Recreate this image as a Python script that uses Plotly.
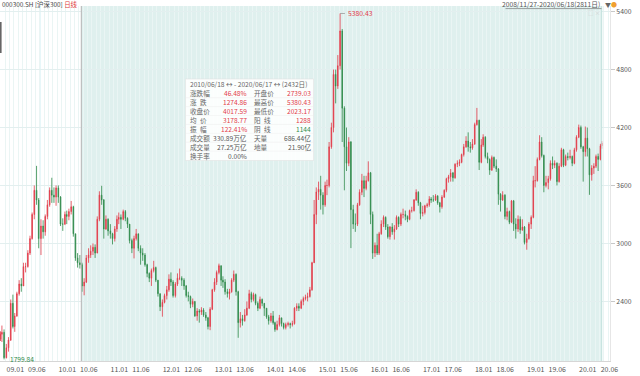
import plotly.graph_objects as go
import pandas as pd

# ---------------- data (half-monthly candles) ----------------
open_2008 = [2010, 2060, 2080]
high_2008 = [2090, 2150, 2110]
low_2008 = [1990, 1980, 1799.84]
close_2008 = [2060, 2080, 1817]

open_2009 = [1817, 1920, 2000, 2380, 2140, 2250, 2480, 2580, 2560, 2760, 2760, 2900, 3050, 3300, 3550, 3450, 3050, 3180, 3120, 3280, 3400, 3550, 3500, 3480]
high_2009 = [1960, 2030, 2420, 2470, 2280, 2500, 2620, 2640, 2800, 2800, 2930, 3080, 3320, 3600, 3803, 3470, 3250, 3240, 3300, 3450, 3580, 3680, 3580, 3600]
low_2009 = [1810, 1880, 1990, 2120, 2085, 2240, 2460, 2500, 2560, 2700, 2750, 2880, 3040, 3250, 3400, 2950, 2880, 3050, 3080, 3250, 3380, 3420, 3420, 3390]
close_2009 = [1920, 2000, 2380, 2140, 2250, 2480, 2580, 2560, 2760, 2760, 2900, 3050, 3300, 3550, 3450, 3050, 3180, 3120, 3280, 3400, 3550, 3500, 3480, 3575]

open_2010 = [3575, 3480, 3200, 3200, 3300, 3280, 3330, 3380, 3100, 2850, 2800, 2780, 2560, 2600, 2850, 2880, 2920, 2960, 2900, 3250, 3500, 3450, 3150, 3250]
high_2010 = [3600, 3490, 3260, 3330, 3340, 3360, 3440, 3390, 3100, 2900, 2880, 2800, 2640, 2880, 2950, 2980, 3000, 2990, 3280, 3540, 3597, 3460, 3290, 3260]
low_2010 = [3420, 3180, 3130, 3190, 3200, 3240, 3300, 3070, 2820, 2750, 2740, 2500, 2463, 2590, 2800, 2850, 2880, 2850, 2900, 3230, 3400, 3050, 3140, 3080]
close_2010 = [3480, 3200, 3200, 3300, 3280, 3330, 3380, 3100, 2850, 2800, 2780, 2560, 2600, 2850, 2880, 2920, 2960, 2900, 3250, 3500, 3450, 3150, 3250, 3130]

open_2011 = [3130, 3100, 3050, 3150, 3250, 3270, 3250, 3330, 3260, 3200, 3030, 2950, 3050, 3100, 2950, 2900, 2880, 2780, 2690, 2640, 2720, 2750, 2620, 2480]
high_2011 = [3200, 3110, 3180, 3290, 3320, 3300, 3350, 3346, 3270, 3200, 3050, 3080, 3150, 3100, 2980, 2950, 2900, 2790, 2700, 2740, 2820, 2760, 2620, 2480]
low_2011 = [3050, 2990, 3020, 3120, 3200, 3150, 3240, 3230, 3160, 3000, 2900, 2845, 3030, 2920, 2780, 2820, 2760, 2650, 2600, 2560, 2700, 2600, 2450, 2300]
close_2011 = [3100, 3050, 3150, 3250, 3270, 3250, 3330, 3260, 3200, 3030, 2950, 3050, 3100, 2950, 2900, 2880, 2780, 2690, 2640, 2720, 2750, 2620, 2480, 2345]

open_2012 = [2345, 2390, 2460, 2520, 2630, 2600, 2460, 2580, 2640, 2640, 2620, 2560, 2460, 2450, 2370, 2400, 2250, 2300, 2290, 2310, 2260, 2230, 2140, 2320]
high_2012 = [2420, 2480, 2560, 2680, 2700, 2620, 2600, 2690, 2740, 2660, 2640, 2570, 2500, 2460, 2430, 2400, 2330, 2320, 2340, 2330, 2290, 2240, 2340, 2530]
low_2012 = [2242, 2380, 2420, 2500, 2560, 2440, 2440, 2560, 2620, 2560, 2520, 2440, 2400, 2330, 2340, 2240, 2200, 2180, 2260, 2240, 2200, 2110, 2102, 2310]
close_2012 = [2390, 2460, 2520, 2630, 2600, 2460, 2580, 2640, 2640, 2620, 2560, 2460, 2450, 2370, 2400, 2250, 2300, 2290, 2310, 2260, 2230, 2140, 2320, 2520]

open_2013 = [2520, 2600, 2700, 2770, 2620, 2600, 2500, 2480, 2500, 2620, 2680, 2500, 2180, 2220, 2200, 2260, 2330, 2480, 2420, 2470, 2380, 2330, 2420, 2380]
high_2013 = [2640, 2720, 2791, 2770, 2660, 2630, 2530, 2530, 2640, 2720, 2690, 2510, 2290, 2260, 2320, 2400, 2520, 2500, 2490, 2480, 2400, 2450, 2430, 2380]
low_2013 = [2500, 2570, 2680, 2560, 2540, 2470, 2440, 2420, 2490, 2600, 2460, 2023.17, 2130, 2150, 2190, 2250, 2320, 2390, 2400, 2360, 2300, 2320, 2350, 2250]
close_2013 = [2600, 2700, 2770, 2620, 2600, 2500, 2480, 2500, 2620, 2680, 2500, 2180, 2220, 2200, 2260, 2330, 2480, 2420, 2470, 2380, 2330, 2420, 2380, 2330]

open_2014 = [2330, 2240, 2200, 2250, 2180, 2110, 2160, 2230, 2170, 2130, 2160, 2170, 2160, 2170, 2330, 2350, 2330, 2400, 2430, 2440, 2450, 2520, 2800, 3300]
high_2014 = [2330, 2260, 2280, 2300, 2190, 2200, 2260, 2230, 2180, 2180, 2190, 2180, 2200, 2340, 2380, 2380, 2420, 2450, 2470, 2490, 2550, 2810, 3450, 3580]
low_2014 = [2220, 2160, 2180, 2160, 2086, 2100, 2140, 2140, 2110, 2110, 2140, 2120, 2140, 2160, 2300, 2300, 2320, 2360, 2410, 2400, 2440, 2510, 2800, 3200]
close_2014 = [2240, 2200, 2250, 2180, 2110, 2160, 2230, 2170, 2130, 2160, 2170, 2160, 2170, 2330, 2350, 2330, 2400, 2430, 2440, 2450, 2520, 2800, 3300, 3533]

open_2015 = [3533, 3560, 3500, 3400, 3600, 3600, 4000, 4200, 4750, 4630, 4840, 5200, 4400, 4000, 3830, 4050, 3350, 3200, 3200, 3400, 3530, 3650, 3570, 3650]
high_2015 = [3640, 3700, 3530, 3640, 3660, 4050, 4250, 4800, 4800, 4950, 5380.43, 5220, 4420, 4200, 4100, 4060, 3400, 3310, 3420, 3560, 3720, 3700, 3700, 3850]
low_2015 = [3450, 3350, 3300, 3380, 3500, 3580, 3980, 4150, 4450, 4600, 4800, 4050, 3550, 3750, 3800, 2952, 3150, 3120, 3180, 3390, 3500, 3480, 3550, 3640]
close_2015 = [3560, 3500, 3400, 3600, 3600, 4000, 4200, 4750, 4630, 4840, 5200, 4400, 4000, 3830, 4050, 3350, 3200, 3200, 3400, 3530, 3650, 3570, 3650, 3731]

open_2016 = [3731, 3300, 2900, 2980, 2900, 3100, 3200, 3270, 3170, 3070, 3170, 3120, 3150, 3270, 3200, 3300, 3300, 3280, 3250, 3340, 3340, 3450, 3530, 3420]
high_2016 = [3740, 3330, 3010, 3100, 3120, 3240, 3290, 3280, 3200, 3180, 3210, 3190, 3290, 3280, 3320, 3360, 3340, 3290, 3350, 3380, 3460, 3560, 3540, 3430]
low_2016 = [3200, 2840, 2860, 2880, 2880, 3090, 3170, 3140, 3050, 3040, 3090, 3040, 3140, 3170, 3180, 3260, 3240, 3220, 3240, 3320, 3330, 3440, 3390, 3250]
close_2016 = [3300, 2900, 2980, 2900, 3100, 3200, 3270, 3170, 3070, 3170, 3120, 3150, 3270, 3200, 3300, 3300, 3280, 3250, 3340, 3340, 3450, 3530, 3420, 3310]

open_2017 = [3310, 3320, 3390, 3400, 3460, 3450, 3450, 3490, 3420, 3380, 3480, 3550, 3670, 3690, 3730, 3680, 3820, 3830, 3840, 3920, 4000, 4060, 4000, 3990]
high_2017 = [3390, 3400, 3420, 3490, 3480, 3500, 3510, 3500, 3430, 3500, 3560, 3680, 3710, 3770, 3740, 3830, 3860, 3870, 3930, 4030, 4110, 4150, 4050, 4080]
low_2017 = [3280, 3300, 3370, 3380, 3420, 3430, 3440, 3400, 3320, 3360, 3470, 3530, 3630, 3640, 3640, 3670, 3790, 3800, 3830, 3900, 3990, 3950, 3940, 3970]
close_2017 = [3320, 3390, 3400, 3460, 3450, 3450, 3490, 3420, 3380, 3480, 3550, 3670, 3690, 3730, 3680, 3820, 3830, 3840, 3920, 4000, 4060, 4000, 3990, 4030]

open_2018 = [4030, 4230, 4275, 3840, 4020, 4100, 3900, 3870, 3760, 3890, 3800, 3770, 3510, 3450, 3500, 3280, 3330, 3220, 3440, 3200, 3150, 3250, 3140, 3170]
high_2018 = [4250, 4403, 4280, 4080, 4130, 4110, 3940, 3880, 3910, 3900, 3870, 3780, 3520, 3540, 3510, 3370, 3340, 3450, 3450, 3260, 3290, 3280, 3250, 3180]
low_2018 = [4020, 4220, 3760, 3830, 4000, 3880, 3830, 3710, 3750, 3780, 3740, 3400, 3330, 3440, 3250, 3240, 3200, 3210, 3130, 3050, 3120, 3100, 3130, 2990]
close_2018 = [4230, 4275, 3840, 4020, 4100, 3900, 3870, 3760, 3890, 3800, 3770, 3510, 3450, 3500, 3280, 3330, 3220, 3440, 3200, 3150, 3250, 3140, 3170, 3010]

open_2019 = [3010, 3050, 3200, 3270, 3650, 3650, 3870, 4050, 3910, 3600, 3630, 3670, 3830, 3810, 3830, 3640, 3800, 3970, 3810, 3900, 3890, 3900, 3830, 3970]
high_2019 = [3100, 3220, 3290, 3700, 3800, 3890, 4120, 4100, 3920, 3700, 3700, 3860, 3900, 3860, 3840, 3830, 3990, 3980, 3920, 3940, 3970, 3910, 3990, 4120]
low_2019 = [2935, 3040, 3150, 3260, 3580, 3640, 3860, 3890, 3530, 3580, 3560, 3650, 3770, 3780, 3600, 3630, 3790, 3790, 3800, 3860, 3870, 3800, 3820, 3950]
close_2019 = [3050, 3200, 3270, 3650, 3650, 3870, 4050, 3910, 3600, 3630, 3670, 3830, 3810, 3830, 3640, 3800, 3970, 3810, 3900, 3890, 3900, 3830, 3970, 4100]

open_2020 = [4100, 4200, 4000, 3950, 4090, 3980, 3710, 3780, 3800, 3900, 3870, 4010]
high_2020 = [4230, 4220, 4010, 4210, 4200, 3990, 3810, 3830, 3920, 3930, 4030, 4060]
low_2020 = [4090, 3980, 3640, 3900, 3900, 3503, 3650, 3720, 3780, 3750, 3860, 3980]
close_2020 = [4200, 4000, 3950, 4090, 3980, 3710, 3780, 3800, 3900, 3870, 4010, 4040]

# x categories: centre date of every half-month period
def half_months(year, months):
    out = []
    for m in months:
        out += [f"{year}-{m:02d}-08", f"{year}-{m:02d}-23"]
    return out

dates = ["2008-11-28", "2008-12-08", "2008-12-23"]
for yr in range(2009, 2020):
    dates += half_months(yr, range(1, 13))
d2020 = half_months(2020, range(1, 7))
d2020[-1] = "2020-06-17"
dates += d2020

years = range(2008, 2021)
g = globals()
opens = sum((g[f"open_{y}"] for y in years), [])
highs = sum((g[f"high_{y}"] for y in years), [])
lows = sum((g[f"low_{y}"] for y in years), [])
closes = sum((g[f"close_{y}"] for y in years), [])

y_ticks = [2400, 3000, 3600, 4200, 4800, 5400]
x_tick_dates = []
x_tick_text = []
for yr in range(2009, 2021):
    for m in (1, 6):
        x_tick_dates.append(f"{yr}-{m:02d}-01")
        x_tick_text.append(f"{yr % 100:02d}.{m:02d}")

sel_start, sel_end = "2010-06-18", "2020-06-17"
peak_date, peak_value = "2015-06-08", 5380.43
low_date, low_value = "2008-12-23", 1799.84

stat_left_labels = ["涨跌幅", "涨\u2002跌", "收盘价", "均\u2002价", "振\u2002幅", "成交额", "成交量", "换手率"]
stat_left_values = ["46.48%", "1274.86", "4017.59", "3178.77", "122.41%", "330.89万亿", "27.25万亿", "0.00%"]
stat_right_labels = ["开盘价", "最高价", "最低价", "阳\u2002线", "阴\u2002线", "天量", "地量", ""]
stat_right_values = ["2739.03", "5380.43", "2023.17", "1288", "1144", "686.44亿", "21.90亿", ""]

# ---------------- styling / layout ----------------
W, H = 640, 376
ML, MR, MT, MB = 0, 30, 6, 15
PW, PH = W - ML - MR, H - MT - MB
PX_PER_DAY = 0.1425

def px(x):
    return (x - ML) / PW

def py(y):
    return 1 - (y - MT) / PH

FONT = "Noto Sans CJK SC, Noto Sans, sans-serif"
RED = "#e23a48"
GREEN = "#2e8a4a"
GRID = "#eaf5f4"
TXT = "#555555"

x0 = pd.Timestamp("2008-11-27") - pd.Timedelta(days=2.5)
x1 = x0 + pd.Timedelta(days=PW / PX_PER_DAY)

fig = go.Figure()
fig.add_trace(go.Candlestick(
    x=dates, open=opens, high=highs, low=lows, close=closes,
    increasing=dict(line=dict(color=RED, width=0.8), fillcolor=RED),
    decreasing=dict(line=dict(color=GREEN, width=0.8), fillcolor=GREEN),
    whiskerwidth=0, showlegend=False, hoverinfo="skip",
))

shapes = [
    dict(type="rect", xref="x", yref="paper", x0=sel_start, x1=sel_end, y0=0, y1=1,
         fillcolor="#dff0ee", line=dict(width=0), layer="below"),
    dict(type="line", xref="x", yref="paper", x0=sel_start, x1=sel_start, y0=0, y1=1,
         line=dict(color="#b3b3b3", width=1), layer="above"),
    dict(type="line", xref="x", yref="paper", x0=sel_end, x1=sel_end, y0=0, y1=1,
         line=dict(color="#bfe0db", width=1), layer="above"),
    dict(type="line", xref="x", yref="paper", x0="2009-09-01", x1="2009-09-01", y0=0, y1=1,
         line=dict(color="#cdeff3", width=1), layer="between"),
    dict(type="rect", xref="paper", yref="paper", x0=px(0), x1=px(1.6), y0=py(53), y1=py(22),
         fillcolor="#666666", line=dict(width=0)),
    # statistics box
    dict(type="rect", xref="paper", yref="paper", x0=px(185.5), x1=px(313.5), y0=py(160.5), y1=py(79),
         fillcolor="rgba(255,255,255,0.88)", line=dict(color="#e2e2e2", width=0.6), layer="above"),
    # peak leader
    dict(type="line", xref="x", yref="y", x0=peak_date, x1="2015-07-12", y0=peak_value, y1=peak_value,
         line=dict(color="#9a9a9a", width=0.8)),
    # underline of range text
    dict(type="line", xref="paper", yref="paper", x0=px(505.5), x1=px(601.5), y0=py(8.6), y1=py(8.6),
         line=dict(color="#777777", width=0.7)),
]

row_y = [93.3 + i * 8.9 for i in range(8)]
for i in range(1, 8):
    yy = row_y[i] - 4.45
    shapes.append(dict(type="line", xref="paper", yref="paper", x0=px(186), x1=px(313), y0=py(yy), y1=py(yy),
                       line=dict(color="#f0f0f0", width=0.6), layer="above"))

ann = []
def txt(x, y, s, color=TXT, size=7, anchor="left", **kw):
    ann.append(dict(xref="paper", yref="paper", x=px(x), y=py(y), text=s, showarrow=False,
                    xanchor=anchor, yanchor="middle", font=dict(family=FONT, size=size, color=color), **kw))

txt(0, 4, "000300.SH [沪深300] <span style='color:#e03c3c'>日线</span>", color="#444444", size=6.4)
txt(601.5, 4, "2008/11/27-2020/06/18(2811日)", color="#555555", anchor="right", size=6.7)
txt(602.5, 4, "▼", color="#666666", size=6)
txt(608.5, 4, "●", color="#f0a030", size=6)
txt(586, 13, "□ ×", color="#d4d4d4", size=5.5)

txt(187.5, 84, "2010/06/18 ↔ - 2020/06/17 ↔ (2432日)", color="#666666", size=6.6)
for i in range(8):
    txt(187.5, row_y[i], stat_left_labels[i], color="#666666", size=6.6)
    lc = RED if i < 5 else "#555555"
    txt(248.5, row_y[i], stat_left_values[i], color=lc, size=6.6, anchor="right")
    if stat_right_labels[i]:
        txt(252, row_y[i], stat_right_labels[i], color="#666666", size=6.6)
        rc = RED if i < 4 else (GREEN if i == 4 else "#555555")
        txt(312.5, row_y[i], stat_right_values[i], color=rc, size=6.6, anchor="right")

ann.append(dict(xref="x", yref="y", x="2015-07-12", y=peak_value, text=f"{peak_value:.2f}",
                showarrow=False, xanchor="left", yanchor="middle", xshift=1,
                font=dict(family=FONT, size=6.8, color=RED)))
ann.append(dict(xref="x", yref="y", x=low_date, y=low_value, text=f"{low_value:.2f}",
                showarrow=False, xanchor="left", yanchor="middle", xshift=4, yshift=0,
                font=dict(family=FONT, size=6.6, color=GREEN)))

fig.update_layout(
    width=W, height=H, autosize=False,
    margin=dict(l=ML, r=MR, t=MT, b=MB, pad=0),
    paper_bgcolor="white", plot_bgcolor="white",
    showlegend=False,
    shapes=shapes, annotations=ann,
    xaxis=dict(
        type="date", range=[x0, x1], rangeslider=dict(visible=False),
        tickmode="array", tickvals=x_tick_dates, ticktext=x_tick_text,
        ticks="", ticklabelshift=10, ticklabelstandoff=2,
        tickfont=dict(family=FONT, size=7, color=TXT),
        showgrid=True, gridcolor=GRID, gridwidth=1,
        minor=dict(dtick="M1", tick0="2009-01-01", showgrid=True, gridcolor=GRID, gridwidth=1),
        showline=True, linecolor="#d6d6d6", linewidth=1, zeroline=False, fixedrange=True,
    ),
    yaxis=dict(
        side="right", range=[1783, 5458], tickmode="array", tickvals=y_ticks,
        ticktext=[str(v) for v in y_ticks],
        ticks="outside", ticklen=4, tickcolor="#c8c8c8",
        tickfont=dict(family=FONT, size=6.8, color=TXT),
        showgrid=True, gridcolor="#e3efef", gridwidth=1,
        showline=True, linecolor="#e6e6e6", zeroline=False, fixedrange=True,
    ),
)

fig.write_html("out.html", config={"displayModeBar": False},
               post_script="document.body.style.margin='0px';document.body.style.padding='0px';")
